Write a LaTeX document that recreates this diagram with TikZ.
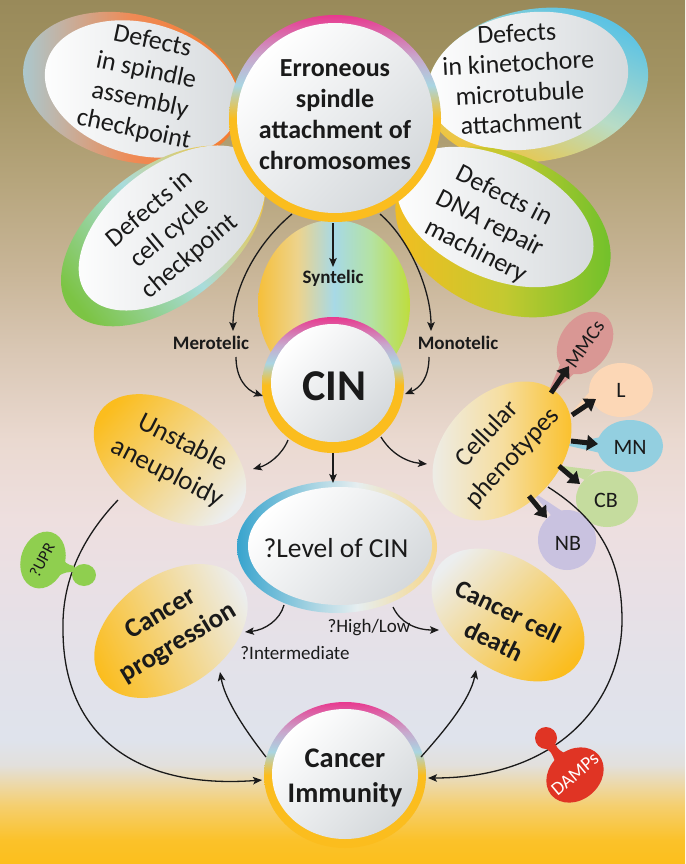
\documentclass[tikz,border=0pt]{standalone}
\usepackage{fontspec}
\setmainfont{Carlito}
\usetikzlibrary{arrows.meta}
\newcommand{\myfs}[2]{\fontsize{#1}{#2}\selectfont}
% background colours
\definecolor{bgA}{HTML}{FCBF1C}
\definecolor{bgB}{HTML}{FBC22A}
\definecolor{bgC}{HTML}{F5CF70}
\definecolor{bgD}{HTML}{EDD8A6}
\definecolor{bgE}{HTML}{E2E0DC}
\definecolor{bgF}{HTML}{DFE3EC}
\definecolor{bgG}{HTML}{E2E2EA}
\definecolor{bgH}{HTML}{E8E0E6}
\definecolor{bgI}{HTML}{EEDFDF}
\definecolor{bgJ}{HTML}{EAD9D0}
\definecolor{bgK}{HTML}{D9C7B4}
\definecolor{bgL}{HTML}{C8B597}
\definecolor{bgM}{HTML}{B6A57C}
\definecolor{bgN}{HTML}{A29362}
\definecolor{bgO}{HTML}{998A5A}
% rings and fills
\definecolor{ringY}{HTML}{FBBD1E}
\definecolor{ringP}{HTML}{E8398F}
\definecolor{ringL}{HTML}{C9A6CC}
\definecolor{ringB}{HTML}{A9D5E2}
\definecolor{paleG}{HTML}{D5D9DC}
\definecolor{whG}{HTML}{ECEEEF}
\definecolor{ylw}{HTML}{FBBD1E}
\definecolor{txt}{HTML}{1A1A1A}
\definecolor{sacL}{HTML}{A6CCD6}
\definecolor{sacM}{HTML}{EF8A55}
\definecolor{sacR}{HTML}{F47A2A}
\definecolor{kinT}{HTML}{5CC3E4}
\definecolor{kinM}{HTML}{B8DCC6}
\definecolor{kinB}{HTML}{F6C12C}
\definecolor{ccL}{HTML}{7CC444}
\definecolor{ccM}{HTML}{A8DCDC}
\definecolor{ccR}{HTML}{F9C332}
\definecolor{dnaL}{HTML}{F8BC1E}
\definecolor{dnaM}{HTML}{C4C930}
\definecolor{dnaR}{HTML}{68C02A}
\definecolor{lvB}{HTML}{38A4CE}
\definecolor{lvM}{HTML}{9CCFE0}
\definecolor{lvW}{HTML}{E6EEF0}
\definecolor{lvYl}{HTML}{F7D688}
\definecolor{syO}{HTML}{F6BF3A}
\definecolor{syY}{HTML}{EDD38C}
\definecolor{syB}{HTML}{A7D9E6}
\definecolor{syG}{HTML}{B4E2A4}
\definecolor{syYG}{HTML}{BEDD3C}
\definecolor{cMM}{HTML}{D99794}
\definecolor{cL}{HTML}{FCD7B6}
\definecolor{cMN}{HTML}{93CFE0}
\definecolor{cCB}{HTML}{C5DC9E}
\definecolor{cNB}{HTML}{C9C2E0}
\definecolor{uprG}{HTML}{8FCF4F}
\definecolor{dampR}{HTML}{E03424}
\definecolor{phM}{HTML}{F6DEA0}
\pgfdeclareverticalshading{bgshade}{100bp}{color(0bp)=(bgA); color(25bp)=(bgA); color(26.39bp)=(bgB); color(28.41bp)=(bgC); color(29.57bp)=(bgD); color(30.73bp)=(bgE); color(32.18bp)=(bgF); color(35.65bp)=(bgG); color(40.28bp)=(bgH); color(44.91bp)=(bgI); color(49.54bp)=(bgJ); color(54.75bp)=(bgK); color(59.38bp)=(bgL); color(64.58bp)=(bgM); color(70.37bp)=(bgN); color(75bp)=(bgO); color(100bp)=(bgO)}
\pgfdeclareverticalshading{ringA}{100bp}{color(0bp)=(ringY); color(25bp)=(ringY); color(50bp)=(ringY); color(58bp)=(ringB); color(65bp)=(ringL); color(75bp)=(ringP); color(100bp)=(ringP)}
\pgfdeclarehorizontalshading{lvring}{100bp}{color(0bp)=(lvB); color(25bp)=(lvB); color(42bp)=(lvM); color(55bp)=(lvW); color(75bp)=(lvYl); color(100bp)=(lvYl)}
\pgfdeclarehorizontalshading{synt}{100bp}{color(0bp)=(syO); color(25bp)=(syO); color(38bp)=(syY); color(50bp)=(syB); color(62bp)=(syG); color(75bp)=(syYG); color(100bp)=(syYG)}
\begin{document}
\begin{tikzpicture}[x=1pt,y=-1pt,
  arr/.style={line width=1.3pt, draw=txt, -{Stealth[length=9pt,width=7.5pt,inset=2pt]}},
  fat/.style={line width=5pt, draw=txt, -{Triangle[length=11pt,width=15pt]}},
  bigt/.style={font=\myfs{26}{31}\bfseries, align=center, text=txt, inner sep=0pt},
  pet/.style={font=\myfs{26}{30}, align=center, text=txt, inner sep=0pt},
  lab/.style={font=\myfs{19}{22}\bfseries, text=txt, inner sep=0pt},
  qlab/.style={font=\myfs{19}{22}, text=txt, inner sep=0pt},
  sml/.style={font=\myfs{22}{24}, text=txt, inner sep=0pt}]
\useasboundingbox (0,0) rectangle (685,864);
\shade[shading=bgshade] (0,0) rectangle (685,864);

% syntelic blob
\shade[shading=synt] (334,305) ellipse [x radius=76, y radius=85];

% petal: spindle assembly checkpoint
\shade[rotate around={-15:(132,88)}, left color=sacL, right color=sacR, middle color=sacM] (132,88) ellipse [x radius=111, y radius=73];
\shade[rotate around={-15:(142,89)}, left color=white, right color=paleG] (142,89) ellipse [x radius=99, y radius=66];
% petal: kinetochore
\shade[rotate around={10:(537,85)}, top color=kinT, bottom color=kinB, middle color=kinM, shading angle=-25] (537,85) ellipse [x radius=112, y radius=76];
\shade[rotate around={10:(528,81)}, left color=white, right color=paleG] (528,81) ellipse [x radius=101, y radius=68];
% petal: cell cycle
\shade[rotate around={38:(163,236)}, top color=ccL, bottom color=ccR, middle color=ccM, shading angle=128] (163,236) ellipse [x radius=118, y radius=68];
\shade[rotate around={38:(172,228)}, left color=white, right color=paleG] (172,228) ellipse [x radius=108, y radius=62];
% petal: DNA repair
\shade[rotate around={-25:(503,232)}, left color=dnaL, right color=dnaR, middle color=dnaM] (503,232) ellipse [x radius=113, y radius=78];
\shade[rotate around={-25:(495,217)}, left color=white, right color=paleG] (495,217) ellipse [x radius=105, y radius=60];
% central circle
\shade[shading=ringA] (335,118.5) ellipse [x radius=106, y radius=103.5];
\shade[top color=white, bottom color=paleG, shading angle=45] (335,118) ellipse [x radius=98, y radius=95];

% petal texts
\node[bigt] (err) at (335,115) {Erroneous\\spindle\\attachment of\\chromosomes};
\node[pet, rotate=-12] (sac) at (143,86) {Defects\\in spindle\\assembly\\checkpoint};
\node[pet, rotate=3] (kin) at (519,78) {Defects\\in kinetochore\\microtubule\\attachment};
\node[pet, font=\myfs{26}{31}, rotate=40] (ccc) at (170,233) {Defects in\\cell cycle\\checkpoint};
\node[pet, font=\myfs{26}{31}, rotate=-27] (dna) at (490,224) {Defects in\\DNA repair\\machinery};

% CIN circle
\shade[shading=ringA] (333,385) ellipse [x radius=71, y radius=68];
\shade[top color=white, bottom color=paleG, shading angle=45] (333,383) ellipse [x radius=62, y radius=59];
\node[font=\myfs{44}{50}\bfseries, text=txt, inner sep=0pt] (cin) at (334,386) {CIN};

% unstable aneuploidy
\shade[rotate around={-35:(170,460)}, top color=ylw, bottom color=whG, shading angle=48] (170,460) ellipse [x radius=85, y radius=54];
\node[pet, font=\myfs{27}{34}, rotate=-27] (una) at (175,458) {Unstable\\aneuploidy};

% small phenotype ellipses with tails
\fill[cMM] (562,360) -- (578,370) -- (545,400) -- cycle;
\fill[cL] (600,380) -- (604,400) -- (565,420) -- cycle;
\fill[cMN] (605,436) -- (605,454) -- (565,445) -- cycle;
\fill[cCB] (585,480) -- (595,470) -- (555,465) -- cycle;
\fill[cNB] (555,520) -- (568,515) -- (530,490) -- cycle;
\fill[cMM, rotate around={55:(585,343)}] (585,343) ellipse [x radius=34, y radius=25];
\fill[cL] (621,390) ellipse [x radius=32, y radius=27];
\fill[cMN] (630,446) ellipse [x radius=33, y radius=26];
\fill[cCB] (607,499) ellipse [x radius=31, y radius=28];
\fill[cNB] (567,540) ellipse [x radius=29, y radius=30];
\node[sml, font=\myfs{20}{24}, rotate=55] (mmc) at (585,344) {MMCs};
\node[sml] (nL) at (621,390) {L};
\node[sml] (nMN) at (630,447) {MN};
\node[sml] (nCB) at (606,500) {CB};
\node[sml] (nNB) at (568,543) {NB};

% cellular phenotypes
\shade[rotate around={45:(502,451)}, left color=whG, right color=ylw, middle color=phM] (502,451) ellipse [x radius=80, y radius=57];
\node[pet, font=\myfs{26}{35}, rotate=47] (phe) at (500,446) {Cellular\\phenotypes};

% level of CIN
\shade[shading=lvring] (337,547) ellipse [x radius=100, y radius=66];
\shade[top color=white, bottom color=paleG, shading angle=45] (340,546) ellipse [x radius=92, y radius=59];
\node[font=\myfs{27.5}{30}, text=txt, inner sep=0pt] (lvl) at (336,548) {?Level of CIN};

% cancer progression
\shade[rotate around={35:(171,631)}, top color=ylw, bottom color=whG, shading angle=115] (171,631) ellipse [x radius=85, y radius=56];
\node[bigt, font=\myfs{27}{34}\bfseries, rotate=31] (cpr) at (170,629) {Cancer\\progression};

% cancer cell death
\shade[rotate around={-35:(508,615)}, top color=whG, bottom color=ylw, shading angle=45] (508,615) ellipse [x radius=85, y radius=55];
\node[bigt, font=\myfs{25.5}{33}\bfseries, rotate=-26] (ccd) at (501,626) {Cancer cell\\death};

% cancer immunity
\shade[shading=ringA] (345,775) ellipse [x radius=81, y radius=73];
\shade[top color=white, bottom color=paleG, shading angle=45] (345,774) ellipse [x radius=73, y radius=65];
\node[bigt, font=\myfs{28.4}{35}\bfseries] (imm) at (345,778) {Cancer\\Immunity};

% labels
\node[lab] (syn) at (333,278) {Syntelic};
\node[lab] (mer) at (211,343) {Merotelic};
\node[lab] (mon) at (458,343) {Monotelic};
\node[qlab] (int) at (295,653) {?Intermediate};
\node[qlab] (hl) at (369,628) {?High/Low};

% arrow coordinates
\coordinate (sy1) at (333,223); \coordinate (sy2) at (333,267);
\coordinate (me1) at (292,214); \coordinate (me2) at (233,331);
\coordinate (mo1) at (380,214); \coordinate (mo2) at (431,331);
\coordinate (me3) at (236,357); \coordinate (me4) at (263,396);
\coordinate (mo3) at (429,357); \coordinate (mo4) at (405,394);
\coordinate (ci1) at (288,440); \coordinate (ci2) at (253,469);
\coordinate (ci3) at (333,453); \coordinate (ci4) at (333,483);
\coordinate (ci5) at (381,437); \coordinate (ci6) at (427,464);
\coordinate (lv1) at (284,605); \coordinate (lv2) at (245,632);
\coordinate (lv3) at (393,607); \coordinate (lv4) at (439,630);
\coordinate (im1) at (266,757); \coordinate (im2) at (220,672);
\coordinate (im3) at (421,757); \coordinate (im4) at (476,670);
\coordinate (lp1) at (118,500); \coordinate (lp2) at (63,630); \coordinate (lp3) at (262,780);
\coordinate (rp1) at (548,487); \coordinate (rp2) at (622,620); \coordinate (rp3) at (428,778);

\draw[arr] (sy1) -- (sy2);
\draw[arr] (me1) .. controls (255,245) and (233,290) .. (me2);
\draw[arr] (mo1) .. controls (410,240) and (431,290) .. (mo2);
\draw[arr] (me3) .. controls (236,378) and (246,390) .. (me4);
\draw[arr] (mo3) .. controls (429,378) and (420,388) .. (mo4);
\draw[arr] (ci1) .. controls (282,455) and (268,465) .. (ci2);
\draw[arr] (ci3) -- (ci4);
\draw[arr] (ci5) .. controls (390,452) and (405,462) .. (ci6);
\draw[arr] (lv1) .. controls (280,620) and (265,630) .. (lv2);
\draw[arr] (lv3) .. controls (400,622) and (415,630) .. (lv4);
\draw[arr] (im1) .. controls (245,730) and (225,700) .. (im2);
\draw[arr] (im3) .. controls (445,730) and (470,700) .. (im4);
\draw[arr] (lp1) .. controls (75,545) and (62,590) .. (lp2) .. controls (63,730) and (130,790) .. (lp3);
\draw[arr] (rp1) .. controls (600,520) and (622,560) .. (rp2) .. controls (622,700) and (560,778) .. (rp3);

% fat arrows to phenotypes
\coordinate (f1a) at (551,393); \coordinate (f1b) at (569,366);
\coordinate (f2a) at (572,415); \coordinate (f2b) at (596,399);
\coordinate (f3a) at (571,441); \coordinate (f3b) at (598,444);
\coordinate (f4a) at (559,466); \coordinate (f4b) at (580,484);
\coordinate (f5a) at (529,496); \coordinate (f5b) at (547,518);
\draw[fat] (f1a) -- (f1b);
\draw[fat] (f2a) -- (f2b);
\draw[fat] (f3a) -- (f3b);
\draw[fat] (f4a) -- (f4b);
\draw[fat] (f5a) -- (f5b);

% UPR blob
\fill[uprG, rotate around={72:(43,560)}] (43,560) ellipse [x radius=29, y radius=22];
\fill[uprG] (84,575) ellipse [x radius=12, y radius=11];
\fill[uprG] (58,552) .. controls (66,564) .. (74,566) -- (76,572) .. controls (66,572) .. (58,576) -- cycle;
\node[font=\myfs{16.5}{20}, text=txt, inner sep=0pt, rotate=62] (upr) at (42,560) {?UPR};

% DAMPs blob
\fill[dampR, rotate around={40:(575,775)}] (575,775) ellipse [x radius=31, y radius=25];
\fill[dampR] (546,738) ellipse [x radius=11, y radius=11];
\fill[dampR] (541,746) .. controls (551,751) .. (556,764) -- (568,755) .. controls (557,749) .. (553,738) -- cycle;
\node[font=\myfs{19}{22}, text=white, inner sep=0pt, rotate=40] (dmp) at (575,774) {DAMPs};
\end{tikzpicture}
\end{document}
